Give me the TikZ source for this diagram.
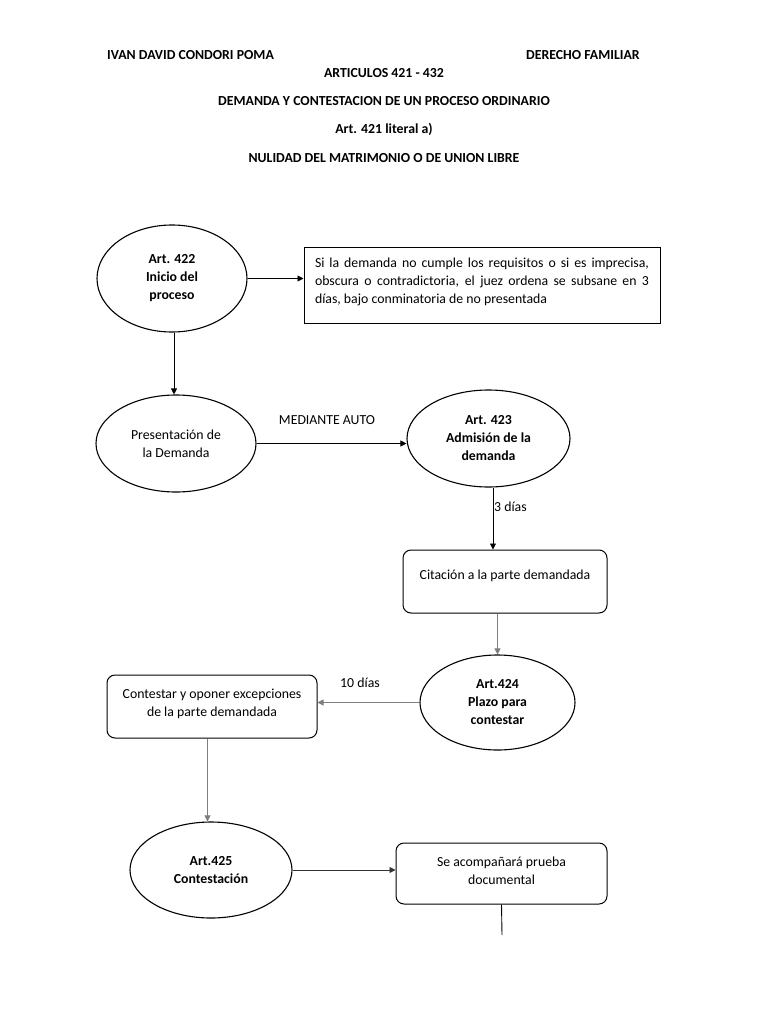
\documentclass[tikz,border=0pt]{standalone}
\usepackage{fontspec}
\setmainfont{Carlito}
\usetikzlibrary{arrows.meta,shapes.geometric,calc}
\definecolor{lgray}{HTML}{7F7F7F}
\newcommand{\bxtext}[4]{\parbox[c][#1][c]{#2}{\centering #4\par\vspace*{#3}}}
\begin{document}
\begin{tikzpicture}[x=1pt,y=-1pt,
  every node/.style={font=\fontsize{13.8}{18}\selectfont},
  hdr/.style={font=\fontsize{13.8}{18}\selectfont\bfseries, inner sep=0pt},
  ell/.style={draw, ellipse, line width=1.1pt, inner sep=0pt, align=center},
  sqbox/.style={draw, rectangle, line width=1pt, inner sep=0pt},
  rbox/.style={draw, rectangle, rounded corners=8pt, line width=1pt, inner sep=0pt},
  lbl/.style={inner sep=0pt},
  arr/.style={line width=0.9pt, -{Triangle[length=6pt,width=6pt]}},
  garr/.style={arr, draw=lgray},
  plain/.style={line width=0.9pt}
]
\useasboundingbox[fill=white] (0,0) rectangle (768,1024);

% header
\node[hdr, anchor=west] (h1) at (107,55) {IVAN DAVID CONDORI POMA};
\node[hdr, anchor=west] (h2) at (526,55) {DERECHO FAMILIAR};
\node[hdr] (h3) at (384,73) {ARTICULOS 421 - 432};
\node[hdr] (h4) at (384,101) {DEMANDA Y CONTESTACION DE UN PROCESO ORDINARIO};
\node[hdr] (h5) at (384,129) {Art. 421 literal a)};
\node[hdr] (h6) at (384,158) {NULIDAD DEL MATRIMONIO O DE UNION LIBRE};

% shapes
\node[ell, minimum width=150pt, minimum height=107pt, font=\fontsize{13.8}{18}\selectfont\bfseries] (e1) at (172,278.5) {Art. 422\\Inicio del\\proceso};
\node[sqbox] (b1) at (482,285) {\parbox[c][76pt][c]{356pt}{\vspace*{-6pt}\hspace*{11pt}\parbox{334pt}{Si la demanda no cumple los requisitos o si es imprecisa,\linebreak obscura o contradictoria, el juez ordena se subsane en 3\linebreak días, bajo conminatoria de no presentada}}};
\node[ell, minimum width=160pt, minimum height=97pt] (e2) at (176,443.5) {Presentación de\\la Demanda};
\node[ell, minimum width=163pt, minimum height=97pt, font=\fontsize{13.8}{18}\selectfont\bfseries] (e3) at (488.5,438.5) {Art. 423\\Admisión de la\\demanda};
\node[rbox] (cit) at (505,581.5) {\bxtext{63pt}{204pt}{11pt}{Citación a la parte demandada}};
\node[ell, minimum width=155pt, minimum height=95pt, font=\fontsize{13.8}{18}\selectfont\bfseries] (e4) at (497.5,702.5) {Art.424\\Plazo para\\contestar};
\node[rbox] (con) at (212,706.5) {\bxtext{63pt}{210pt}{6pt}{Contestar y oponer excepciones\\de la parte demandada}};
\node[ell, minimum width=162pt, minimum height=96pt, font=\fontsize{13.8}{18}\selectfont\bfseries] (e5) at (211,870) {Art.425\\Contestación};
\node[rbox] (se) at (501.5,873.5) {\bxtext{61pt}{211pt}{6pt}{Se acompañará prueba\\documental}};

% labels
\node[lbl] (l1) at (327,420) {MEDIANTE AUTO};
\node[lbl, anchor=west] (l2) at (494,507) {3 días};
\node[lbl] (l3) at (360,683) {10 días};

% connectors
\draw[arr] (e1.east) -- (e1.east -| b1.west);
\draw[arr] ($(e1.south)+(2,0)$) -- ($(e1.south |- e2.north)+(2,0)$);
\draw[arr] (e2.east) -- (e2.east -| e3.west);
\draw[arr] ($(e3.south)+(4.5,0)$) -- ($(e3.south |- cit.north)+(4.5,0)$);
\draw[garr] (e4.north |- cit.south) -- (e4.north);
\draw[garr] (e4.west) -- (e4.west -| con.east);
\draw[garr] ($(con.south)+(-4.5,0)$) -- ($(con.south |- e5.north)+(-4.5,0)$);
\draw[arr, draw=black!80] (e5.east) -- (e5.east -| se.west);
\coordinate (endse) at (502,935);
\draw[plain] (se.south) -- (endse);
\end{tikzpicture}
\end{document}
